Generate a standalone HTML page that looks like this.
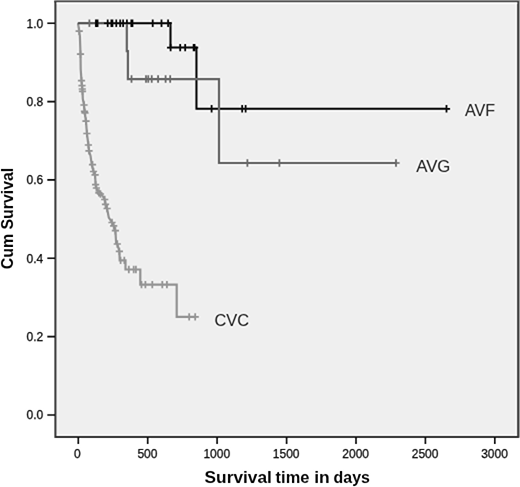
<!DOCTYPE html>
<html><head><meta charset="utf-8"><style>
html,body{margin:0;padding:0;background:#fff;}
svg{display:block;}
text{font-family:"Liberation Sans",Arial,sans-serif;}
</style></head><body>
<svg width="520" height="487" viewBox="0 0 520 487">
<defs><filter id="soft" x="0" y="0" width="520" height="487" filterUnits="userSpaceOnUse" color-interpolation-filters="sRGB"><feConvolveMatrix order="5" kernelMatrix="0.00490 -0.00910 -0.06160 -0.00910 0.00490 -0.00910 0.01690 0.11440 0.01690 -0.00910 -0.06160 0.11440 0.77440 0.11440 -0.06160 -0.00910 0.01690 0.11440 0.01690 -0.00910 0.00490 -0.00910 -0.06160 -0.00910 0.00490" divisor="1" preserveAlpha="true" edgeMode="duplicate"/></filter></defs>
<g filter="url(#soft)">
<rect x="0" y="0" width="520" height="487" fill="#fff"/>
<rect x="55" y="0" width="463" height="436.9" fill="#efefef"/>
<path d="M78.0 23.2 L79.2 31.0 L79.9 36.4 L80.5 54.0 L80.7 69.3 L81.5 80.7 L82.0 85.7 L82.5 91.4 L82.8 98.8 L84.0 105.0 L84.5 111.3 L85.0 113.0 L85.6 119.6 L86.0 121.2 L86.9 133.5 L88.4 145.0 L89.0 150.8 L90.5 155.7 L91.8 164.9 L93.5 171.5 L95.1 174.8 L95.6 184.7 L96.4 188.0 L98.9 192.9 L102.2 195.4 L104.7 199.5 L105.5 204.4 L107.1 208.5 L108.8 217.6 L112.0 222.5 L113.7 225.8 L115.4 230.7 L115.9 239.0 L116.1 243.0 L117.3 244.0 L119.4 251.4 L119.7 260.4 H125.5 V269.5 H140.3 V284.6 H176.7 V316.9 H195.2" stroke="#969696" stroke-width="2.2" fill="none"/><path d="M79.2 27.5V34.9M75.6 31.2H82.8M80.5 50.5V57.9M76.9 54.2H84.1M81.5 77.0V84.4M77.9 80.7H85.1M82.0 82.0V89.4M78.4 85.7H85.6M82.3 85.3V92.7M78.7 89.0H85.9M82.5 87.7V95.1M78.9 91.4H86.1M84.0 101.3V108.7M80.4 105.0H87.6M84.5 107.6V115.0M80.9 111.3H88.1M85.0 109.3V116.7M81.4 113.0H88.6M86.0 117.5V124.9M82.4 121.2H89.6M86.9 129.8V137.2M83.3 133.5H90.5M88.4 141.3V148.7M84.8 145.0H92.0M89.0 147.1V154.5M85.4 150.8H92.6M92.5 161.0V168.4M88.9 164.7H96.1M93.5 167.8V175.2M89.9 171.5H97.1M95.1 171.1V178.5M91.5 174.8H98.7M95.6 181.0V188.4M92.0 184.7H99.2M96.4 184.3V191.7M92.8 188.0H100.0M98.9 189.2V196.6M95.3 192.9H102.5M100.5 190.3V197.7M96.9 194.0H104.1M104.7 195.8V203.2M101.1 199.5H108.3M105.5 200.7V208.1M101.9 204.4H109.1M107.1 204.8V212.2M103.5 208.5H110.7M112.0 218.8V226.2M108.4 222.5H115.6M113.7 222.1V229.5M110.1 225.8H117.3M115.4 227.0V234.4M111.8 230.7H119.0M117.3 240.3V247.7M113.7 244.0H120.9M119.4 247.7V255.1M115.8 251.4H123.0M120.6 256.7V264.1M124.3 256.7V264.1M128.8 265.8V273.2M133.7 265.8V273.2M135.9 265.8V273.2M141.5 280.9V288.3M145.4 280.9V288.3M152.3 280.9V288.3M162.3 280.9V288.3M166.9 280.9V288.3M189.2 313.2V320.6M195.2 313.2V320.6M195.2 316.9H198.8" stroke="#969696" stroke-width="1.7" fill="none"/><path d="M77.8 23.2H104" stroke="#575757" stroke-width="2.2" fill="none"/><path d="M89.4 19.5V26.9" stroke="#6a6a6a" stroke-width="1.7" fill="none"/><path d="M104 23.2 H170.5 V47.6 H196.45 V108.8 H446.5" stroke="#0a0a0a" stroke-width="2.0" fill="none"/><path d="M95.9 19.5V26.9M97.6 19.5V26.9M107.7 19.5V26.9M111.3 19.5V26.9M112.5 19.5V26.9M116.3 19.5V26.9M120.2 19.5V26.9M123.1 19.5V26.9M126.9 19.5V26.9M131.3 19.5V26.9M132.5 19.5V26.9M152.7 19.5V26.9M161.5 19.5V26.9M168.1 19.5V26.9M168.1 23.2H171.7M170.6 43.9V51.3M180.2 43.9V51.3M185.2 43.9V51.3M193.6 43.9V51.3M194.6 43.9V51.3M167.0 47.6H171M194.6 47.6H198.2M211.6 105.1V112.5M242.2 105.1V112.5M245.6 105.1V112.5M446.5 105.1V112.5M446.5 108.8H450.1" stroke="#0a0a0a" stroke-width="1.7" fill="none"/><path d="M126.8 24 V51.1 H127.9 V79.05 H219 V163 H396" stroke="#6a6a6a" stroke-width="2.2" fill="none"/><path d="M131.5 75.3V82.8M146.0 75.3V82.8M148.3 75.3V82.8M151.7 75.3V82.8M158.1 75.3V82.8M165.6 75.3V82.8M170.2 75.3V82.8M247.4 159.3V166.7M279.4 159.3V166.7M396.0 159.3V166.7M396 163H399.6" stroke="#6a6a6a" stroke-width="1.7" fill="none"/>
<path d="M55.4 1V436.9H518.2V1" stroke="#3e3e3e" stroke-width="2" fill="none"/>
<rect x="54.2" y="0" width="465" height="1" fill="#9a9a9a"/>
<rect x="54.2" y="1" width="465" height="1.3" fill="#454545"/>
<rect x="56.5" y="2.6" width="461" height="0.9" fill="#ffffff"/>
<rect x="519.2" y="0" width="1" height="437.5" fill="#9a9a9a"/>
<path d="M47.3 23.2H55M47.3 101.6H55M47.3 179.9H55M47.3 258.3H55M47.3 336.6H55M47.3 415.0H55M78.3 437V444M147.7 437V444M217.1 437V444M286.6 437V444M356.0 437V444M425.4 437V444M494.8 437V444" stroke="#111" stroke-width="1.6" fill="none"/>
<g font-size="12" fill="#111" stroke="#111" stroke-width="0.25"><text x="43.3" y="27.6" text-anchor="end">1.0</text><text x="43.3" y="106.0" text-anchor="end">0.8</text><text x="43.3" y="184.3" text-anchor="end">0.6</text><text x="43.3" y="262.7" text-anchor="end">0.4</text><text x="43.3" y="341.0" text-anchor="end">0.2</text><text x="43.3" y="419.4" text-anchor="end">0.0</text><text x="77.3" y="458" text-anchor="middle">0</text><text x="147.4" y="458" text-anchor="middle">500</text><text x="216.8" y="458" text-anchor="middle">1000</text><text x="286.2" y="458" text-anchor="middle">1500</text><text x="355.7" y="458" text-anchor="middle">2000</text><text x="425.1" y="458" text-anchor="middle">2500</text><text x="494.5" y="458" text-anchor="middle">3000</text></g>
<g font-size="16" fill="#2a2a2a">
<text x="465" y="115.6" textLength="30.2" lengthAdjust="spacingAndGlyphs">AVF</text>
<text x="416.2" y="171.8" textLength="34.2" lengthAdjust="spacingAndGlyphs">AVG</text>
<text x="214.5" y="325.6" textLength="34.6" lengthAdjust="spacingAndGlyphs">CVC</text>
</g>
<g font-size="16.6" font-weight="bold" fill="#111">
<text x="204.6" y="482.6" textLength="67.2" lengthAdjust="spacingAndGlyphs">Survival</text>
<text x="275.6" y="482.6" textLength="33.8" lengthAdjust="spacingAndGlyphs">time</text>
<text x="314.2" y="482.6" textLength="15.5" lengthAdjust="spacingAndGlyphs">in</text>
<text x="333.6" y="482.6" textLength="36.3" lengthAdjust="spacingAndGlyphs">days</text>
</g>
<text transform="translate(12.9 269.3) rotate(-90)" font-size="15.9" font-weight="bold" fill="#111">Cum Survival</text>
</g>
</svg>
</body></html>
